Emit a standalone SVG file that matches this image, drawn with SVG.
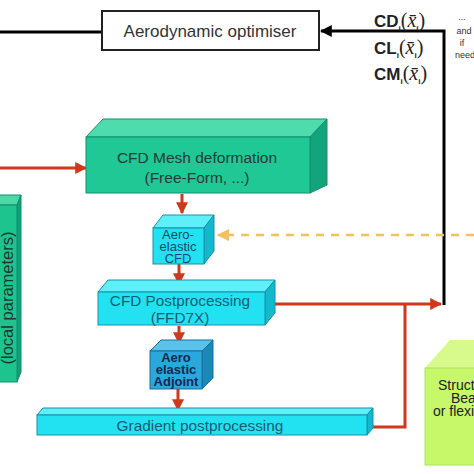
<svg xmlns="http://www.w3.org/2000/svg" width="474" height="474" viewBox="0 0 474 474">
<defs>
<style>
.t{font-family:"Liberation Sans",Arial,sans-serif;text-anchor:middle}
.blk{stroke:#000;stroke-width:3;fill:none}
.red{stroke:#d0381c;stroke-width:3;fill:none}
.lab{font-family:"Liberation Sans",Arial,sans-serif;font-weight:bold;font-size:17px;fill:#222}
.sub{font-size:8px}
.ser{font-family:"Liberation Serif",serif;font-weight:normal;font-size:20px}
.it{font-style:italic}
.st{font-family:"Liberation Sans",Arial,sans-serif;font-size:14px;fill:#222}
</style>
<marker id="ar" viewBox="0 0 10 10" refX="9" refY="5" markerWidth="4" markerHeight="4" orient="auto" markerUnits="strokeWidth"><path d="M0,0L10,5L0,10z" fill="#d0381c"/></marker>
<marker id="ab" viewBox="0 0 10 10" refX="9" refY="5" markerWidth="4" markerHeight="4" orient="auto" markerUnits="strokeWidth"><path d="M0,0L10,5L0,10z" fill="#000"/></marker>
<marker id="ao" viewBox="0 0 10 10" refX="9" refY="5" markerWidth="5" markerHeight="5" orient="auto" markerUnits="strokeWidth"><path d="M0,0L10,5L0,10z" fill="#f5c060"/></marker>
</defs>
<rect width="474" height="474" fill="#fff"/>

<g id="connectors">
<line x1="0" y1="32" x2="102" y2="32" class="blk"/>
<polyline points="444,305 444,31 321,31" class="blk" marker-end="url(#ab)"/>
<line x1="0" y1="168" x2="86" y2="168" class="red" marker-end="url(#ar)"/>
<line x1="182" y1="194" x2="182" y2="213" class="red" stroke-width="2.5" marker-end="url(#ar)"/>
<line x1="179" y1="264" x2="179" y2="284" class="red" stroke-width="2.5" marker-end="url(#ar)"/>
<line x1="179" y1="326" x2="179" y2="343" class="red" stroke-width="2.5" marker-end="url(#ar)"/>
<line x1="178" y1="389" x2="178" y2="410" class="red" stroke-width="2.5" marker-end="url(#ar)"/>
<line x1="275" y1="304" x2="441" y2="304" class="red" marker-end="url(#ar)"/>
<polyline points="367,427 405,427 405,304" class="red"/>
<line x1="474" y1="235" x2="218" y2="235" stroke="#f5c060" stroke-width="2.5" stroke-dasharray="8,7" marker-end="url(#ao)"/>
</g>

<g id="optimiser">
<rect x="102" y="11" width="217" height="39" fill="#fff" stroke="#222" stroke-width="2"/>
<text x="210" y="37" class="t" font-size="17" fill="#333">Aerodynamic optimiser</text>
</g>

<g id="coefficients">
<text x="374" y="27" class="lab">CD<tspan class="sub" dy="4">i</tspan><tspan class="ser" dy="-4">(<tspan class="it">x̄</tspan></tspan><tspan class="sub" dy="4">i</tspan><tspan class="ser" dy="-4">)</tspan></text>
<text x="374" y="54" class="lab">CL<tspan class="sub" dy="4">i</tspan><tspan class="ser" dy="-4">(<tspan class="it">x̄</tspan></tspan><tspan class="sub" dy="4">i</tspan><tspan class="ser" dy="-4">)</tspan></text>
<text x="374" y="80" class="lab">CM<tspan class="sub" dy="4">i</tspan><tspan class="ser" dy="-4">(<tspan class="it">x̄</tspan></tspan><tspan class="sub" dy="4">i</tspan><tspan class="ser" dy="-4">)</tspan></text>
<g font-family="Liberation Sans,Arial,sans-serif" font-size="9" fill="#333" text-anchor="middle">
<text x="462" y="20">...</text>
<text x="464" y="34">and</text>
<text x="462" y="46">if</text>
<text x="470" y="58">needed</text>
</g>
</g>

<g id="local-parameters">
<polygon points="-5,205 0,195 21,195 17,205" fill="#4ed8a8" stroke="#13906a"/>
<polygon points="17,205 21,195 21,372 17,382" fill="#12a078" stroke="#13906a"/>
<rect x="-5" y="205" width="22" height="177" fill="#1ec48e" stroke="#13906a"/>
<text transform="translate(13,298) rotate(-90)" class="t" font-size="16.5" fill="#1a3a30">(local parameters)</text>
<text transform="translate(-4,298) rotate(-90)" class="t" font-size="16.5" fill="#1a3a30">Parametrisation</text>
</g>

<g id="mesh-deformation">
<polygon points="86,137 103,119 327,119 310,137" fill="#4edcac" stroke="#139070"/>
<polygon points="310,137 327,119 327,185 310,193" fill="#14a47c" stroke="#139070"/>
<rect x="86" y="137" width="224" height="56" fill="#20c896" stroke="#139070"/>
<text x="197" y="163" class="t" font-size="15.5" fill="#1d3d35">CFD Mesh deformation</text>
<text x="197" y="183" class="t" font-size="15.5" fill="#1d3d35">(Free-Form, ...)</text>
</g>

<g id="aeroelastic-cfd">
<polygon points="153,228 163,215 214,215 204,228" fill="#5ef0f8" stroke="#1890a8"/>
<polygon points="204,228 214,215 214,251 204,264" fill="#14b8cc" stroke="#1890a8"/>
<rect x="153" y="228" width="51" height="36" fill="#22e2f2" stroke="#1890a8"/>
<text x="178" y="239" class="t" font-size="13" fill="#124a66">Aero-</text>
<text x="178" y="251" class="t" font-size="13" fill="#124a66">elastic</text>
<text x="178" y="263" class="t" font-size="13" fill="#124a66">CFD</text>
</g>

<g id="cfd-postprocessing">
<polygon points="98,292 108,280 275,280 265,292" fill="#5ef0f8" stroke="#1890a8"/>
<polygon points="265,292 275,280 275,313 265,325" fill="#14b8cc" stroke="#1890a8"/>
<rect x="98" y="292" width="167" height="33" fill="#22e2f2" stroke="#1890a8"/>
<text x="180" y="306" class="t" font-size="15.3" fill="#175a72">CFD Postprocessing</text>
<text x="180" y="323" class="t" font-size="15.3" fill="#175a72">(FFD7X)</text>
</g>

<g id="aeroelastic-adjoint">
<polygon points="150,351 161,340 213,340 202,351" fill="#58c4ec" stroke="#1a6f98"/>
<polygon points="202,351 213,340 213,378 202,389" fill="#1a88b8" stroke="#1a6f98"/>
<rect x="150" y="351" width="52" height="38" fill="#2aa8dc" stroke="#1a6f98"/>
<text x="176" y="362" class="t" font-size="13" font-weight="bold" fill="#0c2a52">Aero</text>
<text x="176" y="374" class="t" font-size="13" font-weight="bold" fill="#0c2a52">elastic</text>
<text x="176" y="386" class="t" font-size="13" font-weight="bold" fill="#0c2a52">Adjoint</text>
</g>

<g id="gradient-postprocessing">
<polygon points="37,415 43,408 373,408 367,415" fill="#5ef0f8" stroke="#1890a8"/>
<polygon points="367,415 373,408 373,428 367,435" fill="#14b8cc" stroke="#1890a8"/>
<rect x="37" y="415" width="330" height="20" fill="#22e2f2" stroke="#1890a8"/>
<text x="200" y="431" class="t" font-size="15.4" fill="#175a72">Gradient postprocessing</text>
</g>

<g id="structural">
<polygon points="425,368 450,340 500,340 475,368" fill="#d8fa8c"/>
<rect x="425" y="368" width="60" height="97" fill="#c6f86a" stroke="#b0e060"/>
<text x="438" y="390" class="st">Structural</text>
<text x="451" y="403" class="st">Beam</text>
<text x="433" y="416" class="st">or flexible</text>
</g>
</svg>
